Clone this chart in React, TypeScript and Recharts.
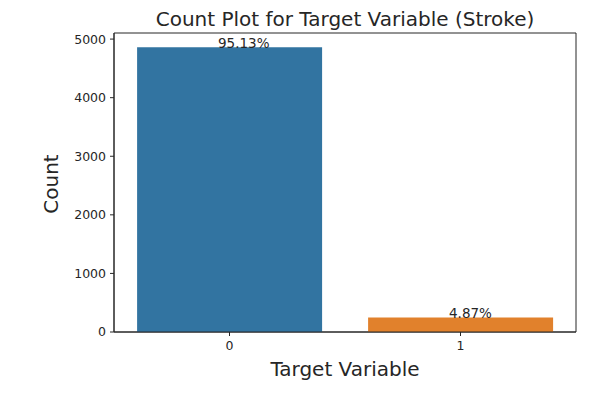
import React from 'react';
import { BarChart, Bar, XAxis, YAxis, Cell, LabelList, ReferenceArea } from 'recharts';

const categories = ['0', '1'];
const counts = [4861, 249];
const percentLabels = ['95.13%', '4.87%'];
const colors = ['#3274a1', '#e1812c'];
const yTicks = [0, 1000, 2000, 3000, 4000, 5000];
const yMax = 5104;

const data = categories.map((c, i) => ({ name: c, count: counts[i], pct: percentLabels[i] }));

const FONT = 'DejaVu Sans, sans-serif';
const INK = '#262626';

const PctLabel = (props: any) => {
  const { x, y, width, value } = props;
  // text starts slightly left of bar centre (bar x + 0.35 of 0.8 width)
  return (
    <text x={x + width * (0.35 / 0.8)} y={y + 1} textAnchor="start" fontSize={13.5} fill={INK} fontFamily={FONT}>
      {value}
    </text>
  );
};

export default function App() {
  return (
    <div style={{ position: 'absolute', left: 0, top: 0, width: 616, height: 393, background: '#fff' }}>
      <BarChart
        width={616}
        height={393}
        data={data}
        margin={{ top: 33, right: 40, bottom: 31, left: 59 }}
        barCategoryGap="10%"
      >
        <text x={345} y={26} textAnchor="middle" fontSize={20} fill={INK} fontFamily={FONT}>
          Count Plot for Target Variable (Stroke)
        </text>
        <text x={345} y={376} textAnchor="middle" fontSize={20} fill={INK} fontFamily={FONT}>
          Target Variable
        </text>
        <text
          x={58}
          y={184}
          textAnchor="middle"
          fontSize={20}
          fill={INK}
          fontFamily={FONT}
          transform="rotate(-90 58 184)"
        >
          Count
        </text>
        <XAxis
          dataKey="name"
          axisLine={{ stroke: INK, strokeWidth: 1 }}
          tickLine={{ stroke: INK }}
          tickSize={4}
          tickMargin={5}
          tick={{ fontSize: 12.5, fill: INK, fontFamily: FONT }}
          height={30}
        />
        <YAxis
          domain={[0, yMax]}
          ticks={yTicks}
          allowDataOverflow
          axisLine={{ stroke: INK, strokeWidth: 1 }}
          tickLine={{ stroke: INK }}
          tickSize={4}
          tickMargin={4}
          tick={{ fontSize: 12.5, fill: INK, fontFamily: FONT }}
          width={55}
        />
        <ReferenceArea y1={0} y2={yMax} fill="none" stroke={INK} strokeWidth={1} strokeOpacity={1} fillOpacity={0} />
        <Bar dataKey="count" isAnimationActive={false}>
          {data.map((d, i) => (
            <Cell key={d.name} fill={colors[i]} />
          ))}
          <LabelList dataKey="pct" content={PctLabel} />
        </Bar>
      </BarChart>
    </div>
  );
}
